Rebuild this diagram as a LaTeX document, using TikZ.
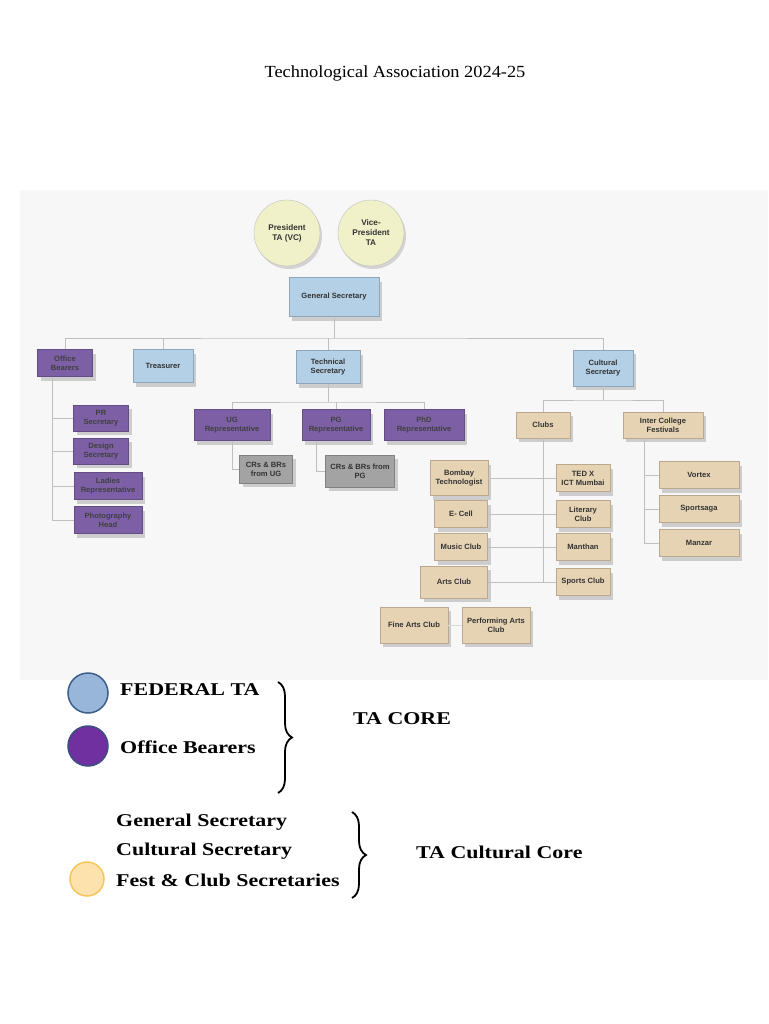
\documentclass[tikz,border=0pt]{standalone}
\usepackage{fontspec}
\usepackage{graphicx}
\setmainfont{Liberation Serif}
\newfontfamily\chartfont{Liberation Sans}
\usetikzlibrary{shadows,decorations.pathreplacing}
\definecolor{pur}{HTML}{7D5FA5}
\definecolor{blu}{HTML}{B4D0E6}
\definecolor{tan}{HTML}{E6D3B3}
\definecolor{gry}{HTML}{A3A3A3}
\definecolor{yel}{HTML}{F1F1C9}
\definecolor{ln}{HTML}{BFBFBF}
\definecolor{lbf}{HTML}{98B6DA}
\definecolor{lbd}{HTML}{3B5E8C}
\definecolor{lpf}{HTML}{7030A0}
\definecolor{lpd}{HTML}{3B4F80}
\definecolor{lof}{HTML}{FDE2AE}
\definecolor{lod}{HTML}{F6C55C}
\newcommand{\wide}[1]{\scalebox{1.22}[1]{#1}}
\begin{document}
\begin{tikzpicture}[x=1pt,y=-1pt,
  bx/.style={draw=#1!80!black,line width=0.4pt,align=center,inner sep=1pt,
    font=\chartfont\bfseries\fontsize{7.6}{9}\selectfont,text=black!80,
    drop shadow={shadow xshift=3pt,shadow yshift=-4pt,opacity=0.35}},
  p/.style={bx=pur,fill=pur,text=black!75},
  b/.style={bx=blu,fill=blu},
  t/.style={bx=tan,fill=tan},
  g/.style={bx=gry,fill=gry},
  cir/.style={circle,draw=black!25,fill=yel,minimum size=66pt,align=center,inner sep=1pt,
    font=\chartfont\bfseries\fontsize{8.2}{10}\selectfont,text=black!80,
    drop shadow={shadow xshift=2pt,shadow yshift=-3pt,opacity=0.3}},
  con/.style={draw=ln,line width=0.7pt},
  leg/.style={font=\bfseries\fontsize{18}{20}\selectfont,anchor=west,inner sep=0pt},
  brc/.style={decorate,decoration={brace,amplitude=14pt},line width=1.8pt}]
\useasboundingbox (0,0) rectangle (768,1024);
\fill[black!3] (20,190) rectangle (768,680);
\node[font=\fontsize{17}{20}\selectfont] (title) at (395,73) {\scalebox{1.08}[1]{Technological Association 2024-25}};
% top
\node[cir] (pres) at (287,233) {President\\TA (VC)};
\node[cir] (vp) at (371,233) {Vice-\\President\\TA};
\node[b,minimum width=90pt,minimum height=39pt] (gs) at (334,297) {General Secretary};
\node[p,minimum width=55pt,minimum height=27pt] (ob) at (65,363) {Office\\Bearers};
\node[b,minimum width=60pt,minimum height=33pt] (tr) at (163,366) {Treasurer};
\node[b,minimum width=64pt,minimum height=33pt] (ts) at (328,367) {Technical\\Secretary};
\node[b,minimum width=60pt,minimum height=36pt] (cs) at (603,368) {Cultural\\Secretary};
\coordinate (gsj) at (334,338);
\draw[con] (gs) -- (gsj);
\draw[con] (ob.north) |- (gsj) -| (cs.north);
\draw[con] (tr.north) -- (tr.north |- gsj);
\draw[con] (ts.north) -- (ts.north |- gsj);
% office bearers
\node[p,minimum width=55pt,minimum height=26pt] (pr) at (101,418) {PR\\Secretary};
\node[p,minimum width=55pt,minimum height=26pt] (ds) at (101,451) {Design\\Secretary};
\node[p,minimum width=68pt,minimum height=27pt] (lr) at (108,486) {Ladies\\Representative};
\node[p,minimum width=68pt,minimum height=27pt] (ph) at (108,520) {Photography\\Head};
\coordinate (obl) at (52,377);
\draw[con] (obl) |- (ph.west);
\foreach \n in {pr,ds,lr} \draw[con] (obl |- \n.west) -- (\n.west);
% technical
\node[p,minimum width=76pt,minimum height=31pt] (ug) at (232,425) {UG\\Representative};
\node[p,minimum width=68pt,minimum height=31pt] (pg) at (336,425) {PG\\Representative};
\node[p,minimum width=80pt,minimum height=31pt] (phd) at (424,425) {PhD\\Representative};
\coordinate (tsj) at (328,402);
\draw[con] (ts) -- (tsj);
\draw[con] (ug.north) |- (tsj) -| (phd.north);
\draw[con] (pg.north) -- (pg.north |- tsj);
\node[g,minimum width=53pt,minimum height=28pt] (cug) at (266,469) {CRs \& BRs\\from UG};
\node[g,minimum width=69pt,minimum height=32pt] (cpg) at (360,471) {CRs \& BRs from\\PG};
\draw[con] (ug.south) |- (cug.west);
\draw[con] ([xshift=-20pt]pg.south) |- (cpg.west);
% cultural
\node[t,minimum width=54pt,minimum height=26pt] (clubs) at (543,425) {Clubs};
\node[t,minimum width=80pt,minimum height=26pt] (icf) at (663,425) {Inter College\\Festivals};
\coordinate (csj) at (603,400);
\draw[con] (cs) -- (csj);
\draw[con] (clubs.north) |- (csj) -| (icf.north);
\node[t,minimum width=58pt,minimum height=35pt] (bt) at (459,478) {Bombay\\Technologist};
\node[t,minimum width=53pt,minimum height=27pt] (ec) at (461,514) {E- Cell};
\node[t,minimum width=53pt,minimum height=27pt] (mc) at (461,547) {Music Club};
\node[t,minimum width=67pt,minimum height=32pt] (ac) at (454,582) {Arts Club};
\node[t,minimum width=54pt,minimum height=27pt] (ted) at (583,478) {TED X\\ICT Mumbai};
\node[t,minimum width=54pt,minimum height=27pt] (lc) at (583,514) {Literary\\Club};
\node[t,minimum width=54pt,minimum height=27pt] (man) at (583,547) {Manthan};
\node[t,minimum width=54pt,minimum height=27pt] (sc) at (583,582) {Sports Club};
\node[t,minimum width=68pt,minimum height=36pt] (fa) at (414,625) {Fine Arts Club};
\node[t,minimum width=68pt,minimum height=36pt] (pa) at (496,625) {Performing Arts\\Club};
\draw[con] (clubs.south) -- (543,582);
\draw[con] (bt.east) -- (ted.west);
\draw[con] (ec.east) -- (lc.west);
\draw[con] (mc.east) -- (man.west);
\draw[con] (ac.east) -- (sc.west);
\draw[con,draw=ln!60] (fa.east) -- (pa.west);
\node[t,minimum width=80pt,minimum height=27pt] (vo) at (699,475) {Vortex};
\node[t,minimum width=80pt,minimum height=27pt] (sp) at (699,509) {Sportsaga};
\node[t,minimum width=80pt,minimum height=27pt] (mz) at (699,543) {Manzar};
\coordinate (icl) at (644,438);
\draw[con] (icl) |- (mz.west);
\draw[con] (icl |- vo.west) -- (vo.west);
\draw[con] (icl |- sp.west) -- (sp.west);
% legend
\node[circle,draw=lbd,line width=1.5pt,fill=lbf,minimum size=40pt] (lb) at (88,693) {};
\node[circle,draw=lpd,line width=1.5pt,fill=lpf,minimum size=40pt] (lp) at (88,746) {};
\node[circle,draw=lod,line width=1.5pt,fill=lof,minimum size=34pt] (lo) at (87,879) {};
\node[leg] (fed) at (120,690) {\wide{FEDERAL TA}};
\node[leg] (offb) at (120,747) {\wide{Office Bearers}};
\draw[brc] (278,682) -- (278,793);
\node[leg] (core) at (353,719) {\wide{TA CORE}};
\node[leg] (gsl) at (116,822) {\wide{General Secretary}};
\node[leg] (csl) at (116,851) {\wide{Cultural Secretary}};
\node[leg] (fcs) at (116,880) {\wide{Fest \& Club Secretaries}};
\draw[brc] (352,812) -- (352,898);
\node[leg] (ccore) at (416,852) {\wide{TA Cultural Core}};
\end{tikzpicture}
\end{document}
